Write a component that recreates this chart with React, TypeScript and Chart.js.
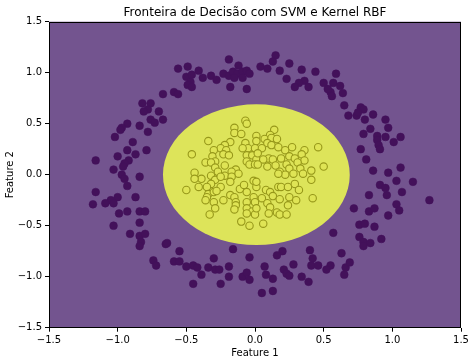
import React, { useEffect, useRef } from "react";
import { Chart, registerables } from "chart.js";

Chart.register(...registerables);

const chartTitle = "Fronteira de Decisão com SVM e Kernel RBF";
const xAxisLabel = "Feature 1";
const yAxisLabel = "Feature 2";
const tickValues = [-1.5, -1.0, -0.5, 0.0, 0.5, 1.0, 1.5];

// decision boundary (RBF SVM) approximated as an ellipse in data units
const boundaryCenterX = 0.01;
const boundaryCenterY = 0.0;
const boundaryRadiusX = 0.68;
const boundaryRadiusY = 0.69;

// class 0 (outer ring)
const outerX = [
  -0.56, -0.49, -0.41, -0.5, -0.47, -0.49, -0.46, -0.67, -0.59, -0.56,
  -0.82, -0.76, -0.78, -0.81, -0.7, -0.76, -0.73, -0.67, -0.84, -0.93,
  -0.97, -0.98, -0.78, -1.02, -0.89, -0.93, -0.79, -0.87, -1.0, -0.92,
  -1.16, -0.95, -0.96, -1.03, -0.97, -0.84, -0.95, -0.93, -1.16, -1.0,
  -0.87, -1.05, -1.18, -1.09, -1.03, -0.99, -0.93, -0.84, -0.8, -0.84,
  -1.03, -0.91, -0.84, -0.8, -0.83, -0.84, -0.65, -0.64, -0.55, -0.74,
  -0.72, -0.59, -0.55, -0.5, -0.45, -0.45, 0.57, -0.16, 0.2, 0.16,
  0.4, 0.63, -0.04, -0.3, 0.42, -0.42, -0.34, -0.29, -0.26, -0.19,
  0.07, 0.28, 0.41, 0.46, 0.55, 0.52, 0.66, 0.21, -0.39, -0.19,
  -0.09, -0.06, -0.04, 0.08, 0.13, 0.23, 0.25, 0.34, 0.39, 0.65,
  -0.25, 0.05, 0.13, 0.86, 0.97, 1.03, 1.15, 0.91, 0.95, 0.96,
  1.07, 0.83, 1.27, 1.03, 1.05, 0.72, 0.83, 0.87, 0.97, 0.76,
  0.8, 0.87, 0.76, 0.79, 0.79, 0.84, 0.92, 0.69, 0.59, 0.57,
  0.62, 0.55, 0.64, 0.56, 0.65, 0.77, 0.79, 0.68, 0.74, 0.75,
  0.8, 0.86, 0.95, 0.84, 0.97, 0.79, 0.89, 0.89, 0.95, 1.01,
  1.06, 0.9, 0.91, 0.77, 0.81, 1.06, -0.19, 0.15, 0.13, -0.46,
  -0.38, -0.32, -0.28, -0.23, -0.19, -0.16, -0.12, -0.13, -0.09, -0.06,
  -0.04, -0.15, -0.09, -0.18, -0.06, 0.04, 0.09, 0.18, 0.25, 0.34,
  0.44, 0.23, 0.36, 0.32, 0.29, 0.39, 0.5, 0.53,
];
const outerY = [
  1.04, 1.06, 1.02, 0.96, 0.91, 0.88, 0.86, 0.79, 0.81, 0.79,
  0.7, 0.7, 0.64, 0.62, 0.62, 0.54, 0.51, 0.54, 0.48, 0.5,
  0.46, 0.44, 0.42, 0.37, 0.32, 0.24, 0.24, 0.2, 0.18, 0.14,
  0.14, 0.11, 0.08, 0.05, 0.0, -0.02, -0.04, -0.11, -0.17, -0.22,
  -0.22, -0.25, -0.29, -0.28, -0.28, -0.38, -0.36, -0.36, -0.36, -0.47,
  -0.5, -0.58, -0.6, -0.58, -0.66, -0.7, -0.68, -0.67, -0.75, -0.84,
  -0.89, -0.85, -0.85, -0.9, -0.89, -1.07, -0.57, -0.73, -0.75, -0.79,
  -0.74, -0.77, -0.81, -0.82, -0.82, -0.91, -0.91, -0.93, -0.93, -0.9,
  -0.9, -0.88, -0.89, -0.89, -0.89, -0.93, -0.91, -0.93, -0.98, -1.0,
  -1.0, -0.96, -1.03, -0.98, -1.02, -0.97, -0.99, -1.0, -1.05, -0.98,
  -1.07, -1.16, -1.14, 0.04, 0.02, -0.06, -0.07, -0.1, -0.13, -0.2,
  -0.17, -0.2, -0.25, -0.29, -0.35, -0.33, -0.36, -0.33, -0.4, -0.49,
  -0.48, -0.51, -0.61, -0.66, -0.7, -0.67, -0.63, -0.86, 0.99, 0.9,
  0.87, 0.81, 0.8, 0.77, 0.68, 0.66, 0.64, 0.58, 0.58, 0.61,
  0.54, 0.59, 0.54, 0.45, 0.46, 0.4, 0.38, 0.34, 0.37, 0.32,
  0.37, 0.29, 0.25, 0.25, 0.15, 0.07, 1.13, 1.17, 1.11, 0.98,
  0.95, 0.97, 0.93, 0.99, 0.97, 1.01, 1.07, 0.99, 1.01, 1.02,
  0.99, 0.95, 0.95, 0.86, 0.84, 1.06, 1.04, 1.02, 1.09, 1.03,
  1.01, 0.94, 0.92, 0.9, 0.86, 0.86, 0.9, 0.84,
];

// class 1 (inner disc)
const innerX = [
  -0.07, -0.06, -0.15, -0.15, -0.1, 0.01, -0.34, -0.18, -0.22, -0.25,
  -0.07, -0.05, -0.09, 0.01, 0.0, -0.3, -0.21, -0.23, -0.19, -0.31,
  -0.46, -0.29, -0.36, -0.32, -0.06, -0.02, 0.01, -0.06, -0.04, 0.0,
  -0.22, -0.29, -0.27, -0.14, -0.17, -0.12, -0.44, -0.32, -0.22, 0.14,
  0.11, 0.07, 0.12, 0.16, 0.09, 0.12, 0.17, 0.05, 0.22, 0.27,
  0.46, 0.36, 0.34, 0.25, 0.02, 0.1, 0.06, 0.13, 0.19, 0.29,
  0.36, 0.02, 0.09, 0.15, 0.23, 0.31, 0.25, 0.33, 0.5, 0.41,
  0.18, 0.28, 0.35, 0.22, -0.39, -0.44, -0.29, -0.25, -0.17, -0.18,
  -0.32, -0.25, -0.41, -0.35, -0.5, -0.34, -0.3, -0.28, -0.35, -0.36,
  -0.23, -0.18, -0.15, -0.11, -0.08, -0.01, 0.01, -0.06, -0.01, -0.14,
  -0.06, 0.0, -0.3, -0.14, -0.29, -0.15, -0.06, -0.02, -0.06, 0.0,
  -0.33, -0.1, -0.04, 0.06, 0.17, 0.41, 0.01, 0.17, 0.19, 0.24,
  0.29, 0.32, 0.08, 0.11, 0.13, 0.05, 0.18, 0.25, 0.3, 0.24,
  0.42, 0.09, 0.11, 0.01, 0.16, 0.18, 0.23, 0.1,
];
const innerY = [
  0.53, 0.5, 0.46, 0.41, 0.4, 0.38, 0.33, 0.32, 0.29, 0.26,
  0.31, 0.26, 0.26, 0.33, 0.26, 0.24, 0.24, 0.2, 0.19, 0.18,
  0.2, 0.13, 0.12, 0.12, 0.19, 0.19, 0.15, 0.13, 0.1, 0.1,
  0.09, 0.07, 0.03, 0.05, 0.03, 0.01, 0.02, -0.01, -0.01, 0.44,
  0.39, 0.35, 0.36, 0.35, 0.31, 0.29, 0.27, 0.26, 0.24, 0.27,
  0.27, 0.24, 0.2, 0.18, 0.21, 0.16, 0.15, 0.15, 0.16, 0.16,
  0.14, 0.1, 0.08, 0.09, 0.1, 0.12, 0.06, 0.06, 0.08, 0.04,
  0.03, 0.01, 0.01, 0.0, -0.04, -0.04, -0.05, -0.02, -0.02, -0.07,
  -0.09, -0.12, -0.12, -0.12, -0.15, -0.19, -0.17, -0.16, -0.22, -0.25,
  -0.25, -0.2, -0.22, -0.14, -0.1, -0.06, -0.12, -0.17, -0.22, -0.27,
  -0.27, -0.27, -0.27, -0.3, -0.33, -0.34, -0.33, -0.36, -0.38, -0.39,
  -0.39, -0.46, -0.5, -0.48, 0.01, -0.05, -0.07, -0.12, -0.12, -0.12,
  -0.09, -0.15, -0.15, -0.17, -0.21, -0.23, -0.24, -0.22, -0.25, -0.3,
  -0.23, -0.28, -0.32, -0.33, -0.37, -0.39, -0.39, -0.38,
];

const regionPurple = "#73548f";
const regionYellow = "#dde45a";
const outerPointColor = "#43115a";
const innerPointFill = "#dfe455";
const innerPointEdge = "#97981a";
const FONT = "'DejaVu Sans', sans-serif";

const toPoints = (xs: number[], ys: number[]) =>
  xs.map((x, i) => ({ x, y: ys[i] }));

const fmt = (v: number) => {
  const s = Number(v).toFixed(1);
  return s.startsWith("-") ? "\u2212" + s.slice(1) : s;
};

const decisionPlugin = {
  id: "decisionRegion",
  beforeDatasetsDraw(chart: any) {
    const { ctx, chartArea: a, scales } = chart;
    const xs = scales.x;
    const ys = scales.y;
    ctx.save();
    ctx.fillStyle = regionPurple;
    ctx.fillRect(a.left, a.top, a.right - a.left, a.bottom - a.top);
    const cx = xs.getPixelForValue(boundaryCenterX);
    const cy = ys.getPixelForValue(boundaryCenterY);
    const rx = Math.abs(xs.getPixelForValue(boundaryCenterX + boundaryRadiusX) - cx);
    const ry = Math.abs(ys.getPixelForValue(boundaryCenterY + boundaryRadiusY) - cy);
    ctx.beginPath();
    ctx.ellipse(cx, cy, rx, ry, 0, 0, Math.PI * 2);
    ctx.fillStyle = regionYellow;
    ctx.fill();
    ctx.restore();
  },
  afterDraw(chart: any) {
    const { ctx, chartArea: a } = chart;
    ctx.save();
    ctx.strokeStyle = "#000";
    ctx.lineWidth = 1;
    ctx.strokeRect(
      Math.round(a.left) + 0.5,
      Math.round(a.top) + 0.5,
      Math.round(a.right - a.left) - 1,
      Math.round(a.bottom - a.top) - 1
    );
    // title centred over the plot area
    ctx.fillStyle = "#000";
    ctx.font = `12px ${FONT}`;
    ctx.textAlign = "center";
    ctx.textBaseline = "middle";
    ctx.fillText(chartTitle, (a.left + a.right) / 2, 12.5);
    ctx.restore();
  },
};

export default function App() {
  const ref = useRef<HTMLCanvasElement | null>(null);

  useEffect(() => {
    document.body.style.margin = "0";
    document.body.style.background = "#fff";
    if (!ref.current) return;
    const axisCommon = (label: string, pad: any) => ({
      type: "linear" as const,
      min: -1.5,
      max: 1.5,
      afterBuildTicks: (s: any) => {
        s.ticks = tickValues.map((v) => ({ value: v }));
      },
      ticks: {
        color: "#000",
        font: { family: FONT, size: 10 },
        padding: 3,
        autoSkip: false,
        maxRotation: 0,
        callback: (v: any) => fmt(v),
      },
      grid: {
        display: true,
        drawOnChartArea: false,
        drawTicks: true,
        tickLength: 4,
        color: "#000",
        lineWidth: 1,
      },
      border: { display: false },
      title: {
        display: true,
        text: label,
        color: "#000",
        font: { family: FONT, size: 10 },
        padding: pad,
      },
    });

    const chart = new Chart(ref.current, {
      type: "scatter",
      data: {
        datasets: [
          {
            label: "0",
            data: toPoints(outerX, outerY),
            backgroundColor: outerPointColor,
            borderColor: outerPointColor,
            borderWidth: 0.5,
            pointRadius: 3.9,
          },
          {
            label: "1",
            data: toPoints(innerX, innerY),
            backgroundColor: innerPointFill,
            borderColor: innerPointEdge,
            borderWidth: 1.1,
            pointRadius: 3.7,
          },
        ],
      },
      options: {
        animation: false,
        responsive: false,
        devicePixelRatio: 1,
        events: [],
        layout: { padding: { left: 0, right: 13, top: 21.7, bottom: 0 } },
        plugins: {
          legend: { display: false },
          tooltip: { enabled: false },
          title: { display: false },
        },
        scales: {
          x: {
            ...axisCommon(xAxisLabel, { top: 2, bottom: 4 }),
            position: "bottom",
            afterFit: (s: any) => {
              s.height = 35.3;
            },
          },
          y: {
            ...axisCommon(yAxisLabel, { top: 4, bottom: 2 }),
            position: "left",
            afterFit: (s: any) => {
              s.width = 49;
            },
          },
        },
      } as any,
      plugins: [decisionPlugin],
    });
    return () => chart.destroy();
  }, []);

  return (
    <div style={{ width: 474, height: 363 }}>
      <canvas ref={ref} width={474} height={363} style={{ display: "block" }} />
    </div>
  );
}
